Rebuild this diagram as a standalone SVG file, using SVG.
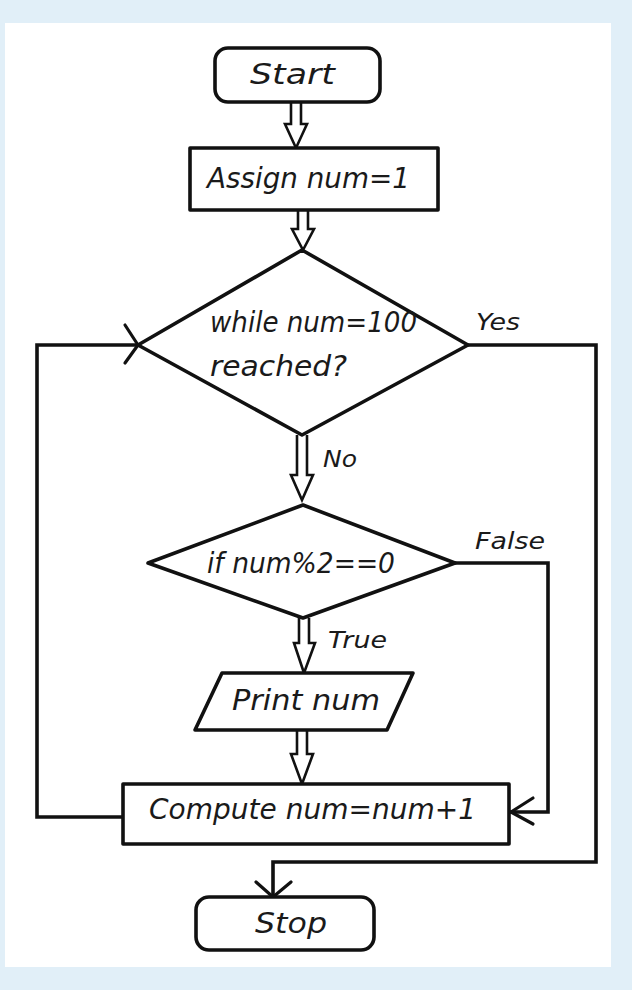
<svg xmlns="http://www.w3.org/2000/svg" width="632" height="990" viewBox="0 0 632 990">
<style>
.shape{fill:#fff;stroke:#111;stroke-width:3.6;stroke-linejoin:round}
.line{fill:none;stroke:#111;stroke-width:3.6;stroke-linejoin:miter}
.dbl{fill:#fff;stroke:#111;stroke-width:2.6;stroke-linejoin:miter}
.head{fill:none;stroke:#111;stroke-width:3.2;stroke-linecap:round;stroke-linejoin:round}
text{font-family:"DejaVu Sans","Liberation Sans",sans-serif;font-style:italic;fill:#1a1a1a;font-size:28px}
.lbl{font-size:23px}
</style>
<rect x="0" y="0" width="632" height="990" fill="#e1eff8"/>
<rect x="5" y="23" width="606" height="944" fill="#ffffff"/>

<g id="connectors">
  <path class="dbl" d="M291,102 L291,124 L285,124 L296,148 L307,124 L301,124 L301,102"/>
  <path class="dbl" d="M298,210 L298,229 L292,229 L303,250 L314,229 L308,229 L308,210"/>
  <path class="dbl" d="M297,435 L297,475 L291,475 L302,500 L313,475 L307,475 L307,435"/>
  <path class="dbl" d="M299,618 L299,643 L294,643 L304,673 L315,643 L309,643 L309,618"/>
  <path class="dbl" d="M297,730 L297,754 L291,754 L302,784 L313,754 L307,754 L307,730"/>
  <polyline class="line" points="468,345 596,345 596,862 273,862 273,897"/>
  <polyline class="head" points="256,882 273,897 291,882"/>
  <polyline class="line" points="455,563 548,563 548,812 510,812"/>
  <polyline class="head" points="533,798 511,812 533,824"/>
  <polyline class="line" points="123,817 37,817 37,345 138,345"/>
  <polyline class="head" points="125,325 138,345 125,363"/>
  <text class="lbl" x="476" y="330" textLength="44" lengthAdjust="spacingAndGlyphs">Yes</text>
  <text class="lbl" x="323" y="467" textLength="34" lengthAdjust="spacingAndGlyphs">No</text>
  <text class="lbl" x="475" y="549" textLength="70" lengthAdjust="spacingAndGlyphs">False</text>
  <text class="lbl" x="328" y="648" textLength="59" lengthAdjust="spacingAndGlyphs">True</text>
</g>

<g id="start">
  <rect class="shape" x="215" y="48" width="165" height="54" rx="13"/>
  <text x="250" y="84" textLength="85" lengthAdjust="spacingAndGlyphs">Start</text>
</g>
<g id="assign">
  <rect class="shape" x="190" y="148" width="248" height="62"/>
  <text x="207" y="188" textLength="203" lengthAdjust="spacingAndGlyphs">Assign num=1</text>
</g>
<g id="while">
  <polygon class="shape" points="302,250 468,345 302,435 138,345"/>
  <text x="210" y="332" textLength="207" lengthAdjust="spacingAndGlyphs">while num=100</text>
  <text x="210" y="376" textLength="137" lengthAdjust="spacingAndGlyphs">reached?</text>
</g>
<g id="if">
  <polygon class="shape" points="303,505 455,563 303,618 148,563"/>
  <text x="207" y="573" textLength="188" lengthAdjust="spacingAndGlyphs">if num%2==0</text>
</g>
<g id="print">
  <polygon class="shape" points="222,673 413,673 387,730 195,730"/>
  <text x="232" y="710" textLength="148" lengthAdjust="spacingAndGlyphs">Print num</text>
</g>
<g id="compute">
  <rect class="shape" x="123" y="784" width="386" height="60"/>
  <text x="149" y="819" textLength="327" lengthAdjust="spacingAndGlyphs">Compute num=num+1</text>
</g>
<g id="stop">
  <rect class="shape" x="196" y="897" width="178" height="53" rx="13"/>
  <text x="255" y="933" textLength="72" lengthAdjust="spacingAndGlyphs">Stop</text>
</g>
</svg>
